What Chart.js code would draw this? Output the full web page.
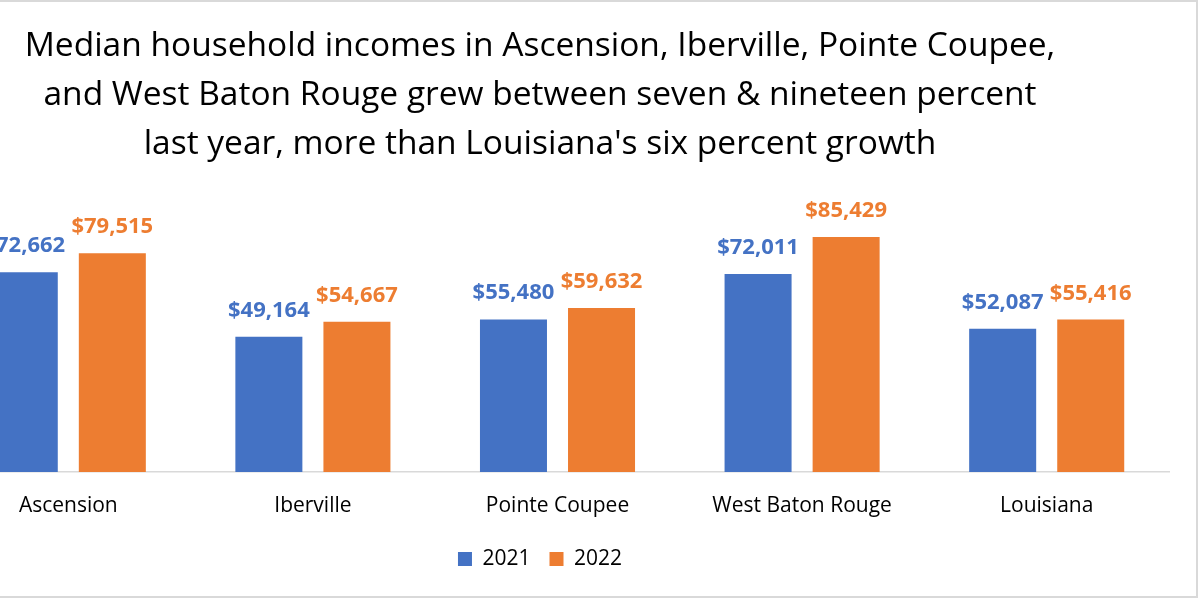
<!DOCTYPE html>
<html>
<head>
<meta charset="utf-8">
<script src="https://cdn.jsdelivr.net/npm/chart.js@4.4.0/dist/chart.umd.min.js"></script>
<style>
    html, body { margin: 0; padding: 0; background: #fff; }
    #frame { position: relative; width: 1200px; height: 600px; overflow: hidden; background: #fff; }
    #wrap { position: absolute; left: -120px; top: 0; width: 1320px; height: 600px; }
    #edge { position: absolute; left: -2px; top: 0; width: 1200px; height: 598px; border-top: 2px solid #d9d9d9; border-right: 2px solid #d9d9d9; border-bottom: 2px solid #d9d9d9; box-sizing: border-box; pointer-events: none; }
</style>
</head>
<body>
<div id="frame">
    <div id="wrap"><canvas id="incomeChart" width="1320" height="600"></canvas></div>
    <div id="edge"></div>
</div>
<script>
// Chart data
const parishes = ['Ascension', 'Iberville', 'Pointe Coupee', 'West Baton Rouge', 'Louisiana'];
const income2021 = [72662, 49164, 55480, 72011, 52087];
const income2022 = [79515, 54667, 59632, 85429, 55416];
const titleLines = [
    'Median household incomes in Ascension, Iberville, Pointe Coupee,',
    'and West Baton Rouge grew between seven & nineteen percent',
    "last year, more than Louisiana's six percent growth"
];

const FONT = "'Open Sans', 'DejaVu Sans', sans-serif";

// Draw the value above each bar
const valueLabels = {
    id: 'valueLabels',
    afterDatasetsDraw(chart) {
        const ctx = chart.ctx;
        ctx.save();
        ctx.font = `bold 22px ${FONT}`;
        ctx.textAlign = 'center';
        ctx.textBaseline = 'alphabetic';
        chart.data.datasets.forEach((ds, i) => {
            const meta = chart.getDatasetMeta(i);
            ctx.fillStyle = ds.backgroundColor;
            meta.data.forEach((bar, j) => {
                ctx.fillText('$' + ds.data[j].toLocaleString('en-US'), bar.x, bar.y - 20);
            });
        });
        ctx.restore();
    }
};

const ctx = document.getElementById('incomeChart').getContext('2d');
const chart = new Chart(ctx, {
    type: 'bar',
    data: {
        labels: parishes,
        datasets: [
            {
                label: '2021',
                data: income2021,
                backgroundColor: '#4472C4',
                categoryPercentage: 0.72,
                barPercentage: 0.761
            },
            {
                label: '2022',
                data: income2022,
                backgroundColor: '#ED7D31',
                categoryPercentage: 0.72,
                barPercentage: 0.761
            }
        ]
    },
    options: {
        responsive: false,
        animation: false,
        devicePixelRatio: 1,
        layout: {
            padding: { left: 31, right: 31, top: 0, bottom: 20.5 }
        },
        plugins: {
            title: {
                display: true,
                text: titleLines,
                color: '#000',
                font: { family: FONT, size: 33.5, weight: 'normal', lineHeight: 1.463 },
                padding: { top: 22, bottom: 28 }
            },
            legend: {
                position: 'bottom',
                labels: {
                    color: '#000',
                    font: { family: FONT, size: 21 },
                    boxWidth: 14,
                    boxHeight: 14,
                    padding: 19
                }
            },
            tooltip: { enabled: false }
        },
        scales: {
            x: {
                grid: { display: false },
                border: { display: true, color: '#d9d9d9', width: 1.5 },
                ticks: {
                    color: '#000',
                    font: { family: FONT, size: 21 },
                    padding: 13,
                    maxRotation: 0
                },
                afterFit(scale) { scale.height = 57.5; }
            },
            y: {
                display: true,
                min: 0,
                max: 100000,
                grid: { display: false },
                border: { display: false },
                ticks: { display: false },
                afterFit(scale) { scale.width = 35; }
            }
        }
    },
    plugins: [valueLabels]
});
</script>
</body>
</html>
